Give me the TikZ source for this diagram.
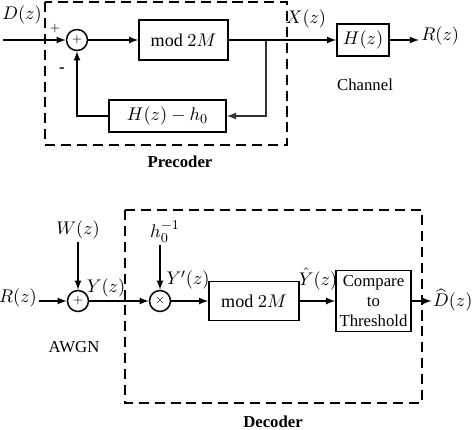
\documentclass[tikz,border=0pt]{standalone}
\usepackage{amsmath}
\usepackage{fontspec}
\setmainfont{Liberation Serif}
\usetikzlibrary{positioning}

\tikzset{
  blk/.style={draw, line width=0.9pt, inner sep=2pt, align=center},
  summer/.style={draw, circle, line width=0.9pt, inner sep=0pt, minimum size=0.44cm},
  frame/.style={line width=0.9pt, dash pattern=on 6pt off 3.5pt},
  lbl/.style={inner sep=1pt},
  note/.style={inner sep=1pt, font=\normalsize},
}

\begin{document}
\begin{tikzpicture}[x=0.021cm,y=-0.021cm,>=latex,line width=0.9pt,
    every node/.append style={font=\fontsize{10.8}{12.5}\selectfont}]
    \useasboundingbox (0,0) rectangle (474,429);

    % precoder frame
    \draw[frame] (45,2) rectangle (287,145);
    \node[note, font=\bfseries] (precoder) at (180,162) {Precoder};

    % input and summer
    \coordinate (din) at (3,40);
    \node[lbl] (dlabel) at (22,15) {$D(z)$};
    \node[summer] (sum1) at (77,40) {\scriptsize$+$};
    \node[lbl, font=\scriptsize] (plus) at (55,29) {$+$};
    \node[lbl, font=\bfseries] (minus) at (62,70) {-};
    \draw[->] (din) -- (sum1);

    % modulo block
    \node[blk, minimum width=1.87cm, minimum height=0.84cm] (mod1) at (183.5,40) {mod $2M$};
    \draw[->] (sum1) -- (mod1);

    % feedback filter
    \node[blk, minimum width=2.46cm, minimum height=0.67cm] (fb) at (167.5,116) {$H(z)-h_0$};
    \coordinate (br) at (266,40);
    \draw[->, draw=black!80] (br) |- (fb.east);
    \draw[->] (fb.west) -| (sum1.south);

    % channel
    \node[blk, minimum width=1.09cm, minimum height=0.67cm] (ch) at (363,40) {$H(z)$};
    \node[lbl] (xlabel) at (306,19) {$X(z)$};
    \draw[->] (mod1.east) -- (ch.west);
    \node[lbl, anchor=west] (rout) at (419,36) {$R(z)$};
    \draw[->] (ch.east) -- (rout.west |- ch.east);
    \node[note] (channel) at (365,85) {Channel};

    % decoder frame
    \draw[frame] (125,210) rectangle (422,403);
    \node[note, font=\bfseries] (decoder) at (273,422) {Decoder};

    % noise adder
    \node[lbl] (rin) at (18,298) {$R(z)$};
    \node[summer] (sum2) at (78,301) {\scriptsize$+$};
    \node[lbl] (wlabel) at (78,230) {$W(z)$};
    \node[note] (awgn) at (74,347) {AWGN};
    \node[lbl] (ylabel) at (106,288) {$Y(z)$};
    \draw[->] (rin.east |- sum2) -- (sum2);
    \draw[->] (wlabel) -- (sum2);

    % gain scaling
    \node[summer] (mult) at (160,301) {\scriptsize$\times$};
    \node[lbl] (hinv) at (165,232) {$h_0^{-1}$};
    \node[lbl] (yplabel) at (188,280) {$Y'(z)$};
    \draw[->] (sum2) -- (mult);
    \draw[->] (hinv.south -| mult) -- (mult);

    % modulo block
    \node[blk, minimum width=1.89cm, minimum height=0.82cm] (mod2) at (254,301) {mod $2M$};
    \draw[->] (mult) -- (mod2);

    % decision
    \node[blk, font=\normalsize, minimum width=1.58cm, minimum height=1.28cm] (cmp) at (373.5,301) {Compare\\to\\Threshold};
    \node[lbl] (yhat) at (318,279) {$\hat{Y}(z)$};
    \draw[->] (mod2) -- (cmp);
    \node[lbl, inner sep=0.5pt, anchor=east] (dout) at (474,300) {$\widehat{D}(z)$};
    \draw[->] (cmp) -- (dout.west |- cmp);
\end{tikzpicture}
\end{document}
